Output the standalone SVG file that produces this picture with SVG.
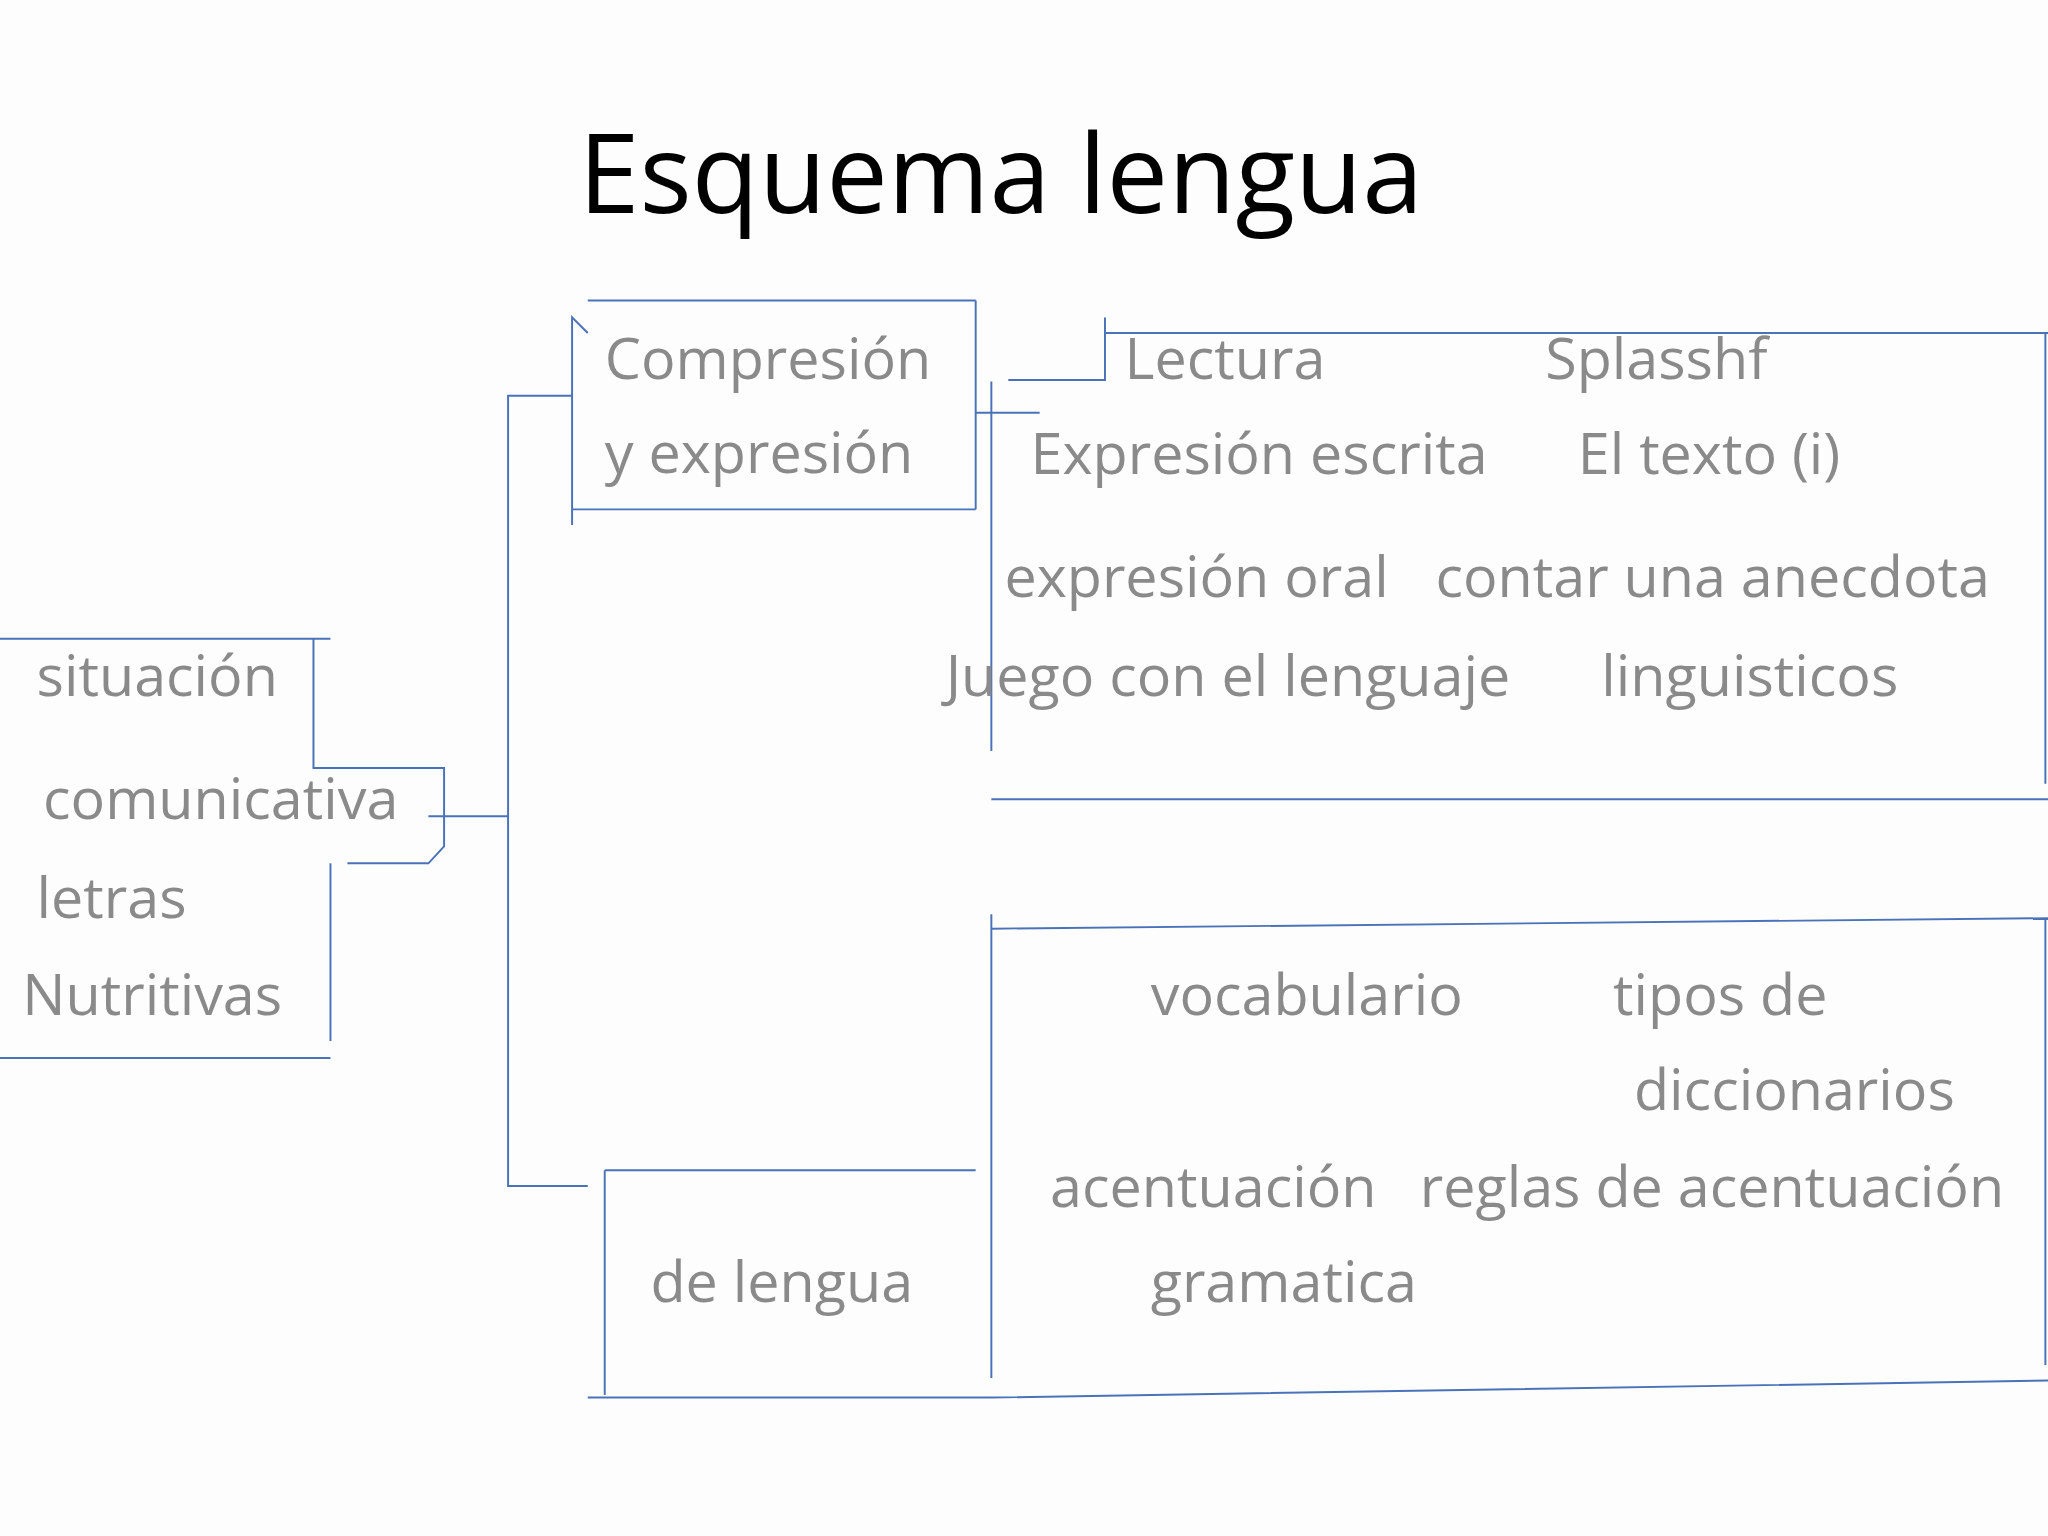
<svg xmlns="http://www.w3.org/2000/svg" width="2048" height="1536" viewBox="0 0 2048 1536">
<style>
.t{font-family:"Open Sans","Liberation Sans",sans-serif;font-size:44px;fill:#8a8a8a}
.h{font-family:"Open Sans","Liberation Sans",sans-serif;font-size:84px;fill:#000}
.c line,.c polyline{stroke:#4a72b8;stroke-width:1.5;fill:none}
</style>
<rect width="2048" height="1536" fill="#fdfdfd"/>
<g transform="scale(1.30612)">
<text class="h" x="443" y="163">Esquema lengua</text>
<g class="c" id="connectors">
<line x1="450" y1="230" x2="747" y2="230"/>
<polyline points="450,255 438,243 438,402"/>
<line x1="747" y1="230" x2="747" y2="390"/>
<line x1="438" y1="390" x2="747" y2="390"/>
<line x1="747" y1="316" x2="796" y2="316"/>
<line x1="759" y1="292" x2="759" y2="575"/>
<polyline points="772,291 846,291 846,243"/>
<polyline points="846,255 1568,255"/>
<line x1="1566" y1="255" x2="1566" y2="600"/>
<line x1="759" y1="612" x2="1568" y2="612"/>
<polyline points="438,303 389,303 389,908 450,908"/>
<line x1="328" y1="625" x2="389" y2="625"/>
<line x1="0" y1="489" x2="253" y2="489"/>
<polyline points="240,489 240,588 340,588 340,648 328,661 266,661"/>
<line x1="253" y1="661" x2="253" y2="797"/>
<line x1="0" y1="810" x2="253" y2="810"/>
<line x1="463" y1="896" x2="747" y2="896"/>
<line x1="463" y1="896" x2="463" y2="1068"/>
<polyline points="450,1070 759,1070 1568,1057"/>
<line x1="759" y1="700" x2="759" y2="1055"/>
<line x1="759" y1="711" x2="1568" y2="703"/>
<line x1="1566" y1="703" x2="1566" y2="1045"/>
</g>
<g id="n1"><text class="t" x="463" y="290">Compresión</text><text class="t" x="463" y="362">y expresión</text></g>
<g id="n2"><text class="t" x="861" y="290">Lectura</text><text class="t" x="1183" y="290">Splasshf</text></g>
<g id="n3"><text class="t" x="789" y="363">Expresión  escrita</text><text class="t" x="1208" y="363">El texto (i)</text></g>
<g id="n4"><text class="t" x="769" y="457">expresión oral</text><text class="t" x="1099" y="457">contar una anecdota</text></g>
<g id="n5"><text class="t" x="724" y="533">Juego con el lenguaje</text><text class="t" x="1226" y="533">linguisticos</text></g>
<g id="n6"><text class="t" x="28" y="533">situación</text><text class="t" x="33" y="627">comunicativa</text><text class="t" x="28" y="703">letras</text><text class="t" x="17" y="777">Nutritivas</text></g>
<g id="n7"><text class="t" x="881" y="777">vocabulario</text><text class="t" x="1235" y="777">tipos de</text><text class="t" x="1251" y="850">diccionarios</text></g>
<g id="n8"><text class="t" x="804" y="924">acentuación</text><text class="t" x="1087" y="924">reglas de acentuación</text></g>
<g id="n9"><text class="t" x="881" y="997">gramatica</text></g>
<g id="n10"><text class="t" x="498" y="997">de lengua</text></g>
</g>
</svg>
